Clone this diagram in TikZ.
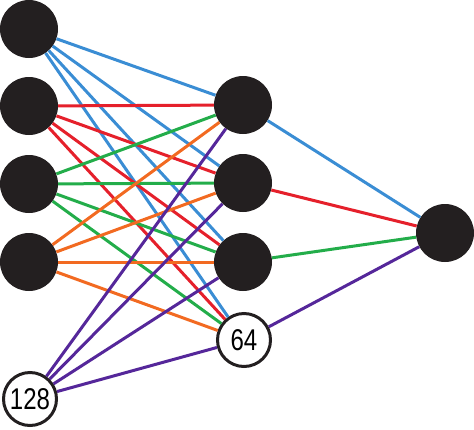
\documentclass[tikz,border=0pt]{standalone}
\usepackage{fontspec}
\setmainfont{Liberation Sans}
\definecolor{nnblack}{HTML}{231F20}
\definecolor{eblue}{HTML}{3A8DD4}
\definecolor{ered}{HTML}{E5202B}
\definecolor{egreen}{HTML}{23AD4A}
\definecolor{eorange}{HTML}{F26A21}
\definecolor{epurple}{HTML}{55279A}
\begin{document}
\begin{tikzpicture}[x=1pt,y=-1pt,
  neuron/.style={circle,fill=nnblack,minimum size=58pt,inner sep=0pt},
  bias/.style={circle,draw=nnblack,line width=3pt,fill=white,minimum size=53pt,inner sep=0pt,
    font=\fontsize{30}{30}\selectfont},
  edge/.style={line width=3pt}]
\useasboundingbox (0,0) rectangle (474,429);
\node[neuron] (i1) at (29,29) {};
\node[neuron] (i2) at (29,106) {};
\node[neuron] (i3) at (29,184) {};
\node[neuron] (i4) at (29,262) {};
\node[bias] (b1) at (30,399) {\scalebox{0.8}[1]{128}};
\node[neuron] (h1) at (243,105) {};
\node[neuron] (h2) at (243,183) {};
\node[neuron] (h3) at (243,262) {};
\node[bias] (b2) at (244,340) {\scalebox{0.8}[1]{64}};
\node[neuron] (o) at (445,233) {};
\begin{scope}[on background layer/.try]
\end{scope}
\foreach \t in {h1,h2,h3,b2}{
  \draw[edge,eblue] (i1) -- (\t);
}
\foreach \t in {h1,h2,h3,b2}{
  \draw[edge,ered] (i2) -- (\t);
}
\foreach \t in {h1,h2,h3,b2}{
  \draw[edge,egreen] (i3) -- (\t);
}
\foreach \t in {h1,h2,h3,b2}{
  \draw[edge,eorange] (i4) -- (\t);
}
\foreach \t in {h1,h2,h3,b2}{
  \draw[edge,epurple] (b1) -- (\t);
}
\draw[edge,eblue] (h1) -- (o);
\draw[edge,ered] (h2) -- (o);
\draw[edge,egreen] (h3) -- (o);
\draw[edge,epurple] (b2) -- (o);
\end{tikzpicture}
\end{document}
